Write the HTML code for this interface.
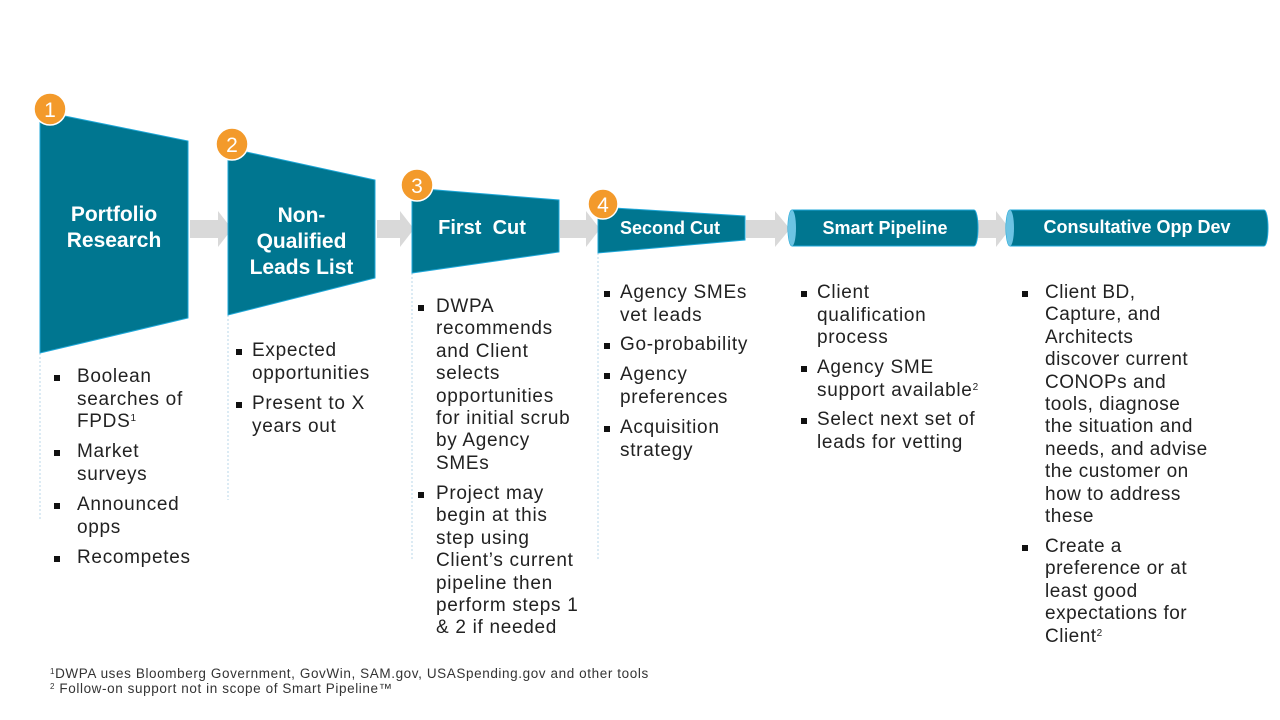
<!DOCTYPE html>
<html><head><meta charset="utf-8"><style>
body{margin:0;width:1280px;height:720px;background:#fff;position:relative;overflow:hidden;font-family:"Liberation Sans",sans-serif;}
svg{position:absolute;left:0;top:0}
.t{position:absolute;font-size:19px;line-height:22.5px;color:#222;letter-spacing:0.7px;white-space:nowrap}
.b{position:absolute;width:6px;height:6px;background:#111}
.h{position:absolute;color:#fff;font-weight:bold;text-align:center;white-space:nowrap}
.fn{position:absolute;font-size:13.5px;color:#333;white-space:nowrap;letter-spacing:0.6px}
sup{font-size:10px;vertical-align:6px;line-height:0}
</style></head><body>
<svg width="1280" height="720">
<g stroke="#b9d7ea" stroke-dasharray="2,2" stroke-width="1">
<line x1="40" y1="353" x2="40" y2="520"/><line x1="228" y1="315" x2="228" y2="500"/>
<line x1="412" y1="273" x2="412" y2="560"/><line x1="598" y1="253" x2="598" y2="560"/>
</g>
<g fill="#d9d9d9">
<polygon points="190,220 218,220 218,211 232,229 218,247 218,238 190,238"/>
<polygon points="377,220 400,220 400,211 414,229 400,247 400,238 377,238"/>
<polygon points="560,220 586,220 586,211 600,229 586,247 586,238 560,238"/>
<polygon points="746,220 775,220 775,211 790,229 775,247 775,238 746,238"/>
<polygon points="978,220 996,220 996,211 1010,229 996,247 996,238 978,238"/>
</g>
<g fill="#007690" stroke="#1ea7d8" stroke-width="1">
<polygon points="40,111 188,141 188,318 40,353"/>
<polygon points="228,148 375,180 375,278 228,315"/>
<polygon points="412,188 559,200 559,252 412,273"/>
<polygon points="598,207 745,216 745,240 598,253"/>
<path d="M792,210 H974 a4,18 0 0 1 0,36 H792 a4,18 0 0 1 0,-36 Z"/>
<path d="M1010,210 H1264 a4,18 0 0 1 0,36 H1010 a4,18 0 0 1 0,-36 Z"/>
</g>
<g fill="#6cc3e3"><ellipse cx="792" cy="228" rx="4" ry="18"/><ellipse cx="1010" cy="228" rx="4" ry="18"/></g>
<g fill="#f39a2b" stroke="#fff" stroke-width="1.5">
<circle cx="50" cy="109" r="16"/><circle cx="232" cy="144" r="16"/><circle cx="417" cy="185" r="16"/><circle cx="603" cy="204" r="15"/>
</g>
<g fill="#fff" font-family="Liberation Sans,sans-serif" font-size="21" text-anchor="middle">
<text x="50" y="117">1</text><text x="232" y="152">2</text><text x="417" y="193">3</text><text x="603" y="212">4</text>
</g>
</svg>
<div class="h" style="left:40px;width:148px;top:202px;font-size:21px;line-height:26px">Portfolio<br>Research</div>
<div class="h" style="left:228px;width:147px;top:203px;font-size:21px;line-height:26px">Non-<br>Qualified<br>Leads List</div>
<div class="h" style="left:412px;width:140px;top:215px;font-size:20px;line-height:26px">First&nbsp; Cut</div>
<div class="h" style="left:600px;width:140px;top:217px;font-size:18px;line-height:22px">Second Cut</div>
<div class="h" style="left:792px;width:186px;top:217px;font-size:18px;line-height:22px">Smart Pipeline</div>
<div class="h" style="left:1008px;width:258px;top:216px;font-size:18px;line-height:22px">Consultative Opp Dev</div>

<div class="b" style="left:54px;top:375px"></div><div class="t" style="left:77px;top:366px">Boolean<br>searches of<br>FPDS<sup>1</sup></div>
<div class="b" style="left:54px;top:450px"></div><div class="t" style="left:77px;top:441px">Market<br>surveys</div>
<div class="b" style="left:54px;top:503px"></div><div class="t" style="left:77px;top:494px">Announced<br>opps</div>
<div class="b" style="left:54px;top:556px"></div><div class="t" style="left:77px;top:547px">Recompetes</div>
<div class="b" style="left:236px;top:349px"></div><div class="t" style="left:252px;top:340px">Expected<br>opportunities</div>
<div class="b" style="left:236px;top:402px"></div><div class="t" style="left:252px;top:393px">Present to X<br>years out</div>
<div class="b" style="left:418px;top:305px"></div><div class="t" style="left:436px;top:296px;line-height:22.4px">DWPA<br>recommends<br>and Client<br>selects<br>opportunities<br>for initial scrub<br>by Agency<br>SMEs</div>
<div class="b" style="left:418px;top:492px"></div><div class="t" style="left:436px;top:483px;line-height:22.4px">Project may<br>begin at this<br>step using<br>Client’s current<br>pipeline then<br>perform steps 1<br>&amp; 2 if needed</div>
<div class="b" style="left:604px;top:291px"></div><div class="t" style="left:620px;top:282px">Agency SMEs<br>vet leads</div>
<div class="b" style="left:604px;top:343px"></div><div class="t" style="left:620px;top:334px">Go-probability</div>
<div class="b" style="left:604px;top:373px"></div><div class="t" style="left:620px;top:364px">Agency<br>preferences</div>
<div class="b" style="left:604px;top:426px"></div><div class="t" style="left:620px;top:417px">Acquisition<br>strategy</div>
<div class="b" style="left:801px;top:291px"></div><div class="t" style="left:817px;top:282px">Client<br>qualification<br>process</div>
<div class="b" style="left:801px;top:366px"></div><div class="t" style="left:817px;top:357px">Agency SME<br>support available<sup>2</sup></div>
<div class="b" style="left:801px;top:418px"></div><div class="t" style="left:817px;top:409px">Select next set of<br>leads for vetting</div>
<div class="b" style="left:1022px;top:291px"></div><div class="t" style="left:1045px;top:282px;line-height:22.4px;letter-spacing:0.5px">Client BD,<br>Capture, and<br>Architects<br>discover current<br>CONOPs and<br>tools, diagnose<br>the situation and<br>needs, and advise<br>the customer on<br>how to address<br>these</div>
<div class="b" style="left:1022px;top:545px"></div><div class="t" style="left:1045px;top:536px;line-height:22.4px;letter-spacing:0.5px">Create a<br>preference or at<br>least good<br>expectations for<br>Client<sup>2</sup></div>

<div class="fn" style="left:50px;top:666px"><sup style="font-size:8px;vertical-align:4px">1</sup>DWPA uses Bloomberg Government, GovWin, SAM.gov, USASpending.gov and other tools</div>
<div class="fn" style="left:50px;top:681px"><sup style="font-size:8px;vertical-align:4px">2</sup> Follow-on support not in scope of Smart Pipeline™</div>
</body></html>
